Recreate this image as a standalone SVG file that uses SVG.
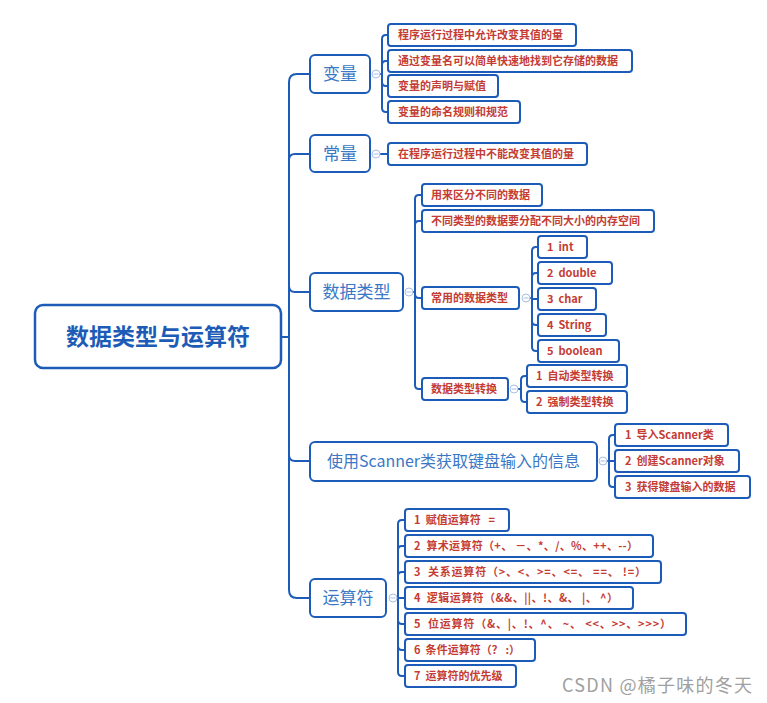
<svg xmlns="http://www.w3.org/2000/svg" width="767" height="703" viewBox="0 0 767 703">
<style>
text{font-family:"Noto Sans CJK SC","Microsoft YaHei",sans-serif;white-space:pre}
.root{fill:#fff;stroke:#1c5cb8;stroke-width:2.5}
.rt{font-size:23px;font-weight:bold;fill:#1d5cb6;text-anchor:middle}
.main{fill:#fff;stroke:#1c5cb8;stroke-width:2}
.mt{font-size:17px;fill:#3a78c6;text-anchor:middle}
.leaf{fill:#fff;stroke:#1c5cb8;stroke-width:2}
.lt{font-size:11px;font-weight:bold;fill:#c43c34}
.ln{fill:none;stroke:#1c5cb8;stroke-width:2}
.cc{fill:#fff;stroke:#a9bfe6;stroke-width:1}
.cm{stroke:#a9bfe6;stroke-width:1}
.wm{font-size:18px;fill:#a0a0a0}
</style>
<g id="connectors">
<path class="ln" d="M281,337 H289"/>
<path class="ln" d="M289,337 V82 Q289,74 297,74 H310"/>
<path class="ln" d="M289,337 V160 Q289,154 295,154 H310"/>
<path class="ln" d="M289,337 V286 Q289,292 295,292 H310"/>
<path class="ln" d="M289,337 V455 Q289,461 295,461 H310"/>
<path class="ln" d="M289,337 V590 Q289,598 297,598 H310"/>
<path class="ln" d="M380,74 H382"/>
<path class="ln" d="M382,74 V39 Q382,35 386,35 H388"/>
<path class="ln" d="M382,74 V65 Q382,61 386,61 H388"/>
<path class="ln" d="M382,74 V82 Q382,86 386,86 H388"/>
<path class="ln" d="M382,74 V108 Q382,112 386,112 H388"/>
<path class="ln" d="M380,154 H388"/>
<path class="ln" d="M413,292 H415"/>
<path class="ln" d="M415,292 V199 Q415,195 419,195 H422"/>
<path class="ln" d="M415,292 V225 Q415,221 419,221 H422"/>
<path class="ln" d="M415,292 V294 Q415,298 419,298 H422"/>
<path class="ln" d="M415,292 V385 Q415,389 419,389 H422"/>
<path class="ln" d="M530,298 H532"/>
<path class="ln" d="M532,298 V251 Q532,247 536,247 H538"/>
<path class="ln" d="M532,298 V277 Q532,273 536,273 H538"/>
<path class="ln" d="M532,299 H538"/>
<path class="ln" d="M532,298 V321 Q532,325 536,325 H538"/>
<path class="ln" d="M532,298 V347 Q532,351 536,351 H538"/>
<path class="ln" d="M518,389 H521"/>
<path class="ln" d="M521,389 V380 Q521,376 525,376 H527"/>
<path class="ln" d="M521,389 V398 Q521,402 525,402 H527"/>
<path class="ln" d="M607,461 H609"/>
<path class="ln" d="M609,461 V439 Q609,435 613,435 H615"/>
<path class="ln" d="M609,461 H615"/>
<path class="ln" d="M609,461 V483 Q609,487 613,487 H615"/>
<path class="ln" d="M397,598 H398"/>
<path class="ln" d="M398,598 V524 Q398,520 402,520 H405"/>
<path class="ln" d="M398,598 V550 Q398,546 402,546 H405"/>
<path class="ln" d="M398,598 V576 Q398,572 402,572 H405"/>
<path class="ln" d="M398,598 H405"/>
<path class="ln" d="M398,598 V620 Q398,624 402,624 H405"/>
<path class="ln" d="M398,598 V646 Q398,650 402,650 H405"/>
<path class="ln" d="M398,598 V672 Q398,676 402,676 H405"/>
<circle class="cc" cx="376" cy="74" r="4"/><path class="cm" d="M373.5,74 H378.5"/>
<circle class="cc" cx="376" cy="154" r="4"/><path class="cm" d="M373.5,154 H378.5"/>
<circle class="cc" cx="409" cy="292" r="4"/><path class="cm" d="M406.5,292 H411.5"/>
<circle class="cc" cx="526" cy="298" r="4"/><path class="cm" d="M523.5,298 H528.5"/>
<circle class="cc" cx="514" cy="389" r="4"/><path class="cm" d="M511.5,389 H516.5"/>
<circle class="cc" cx="603" cy="461" r="4"/><path class="cm" d="M600.5,461 H605.5"/>
<circle class="cc" cx="393" cy="598" r="4"/><path class="cm" d="M390.5,598 H395.5"/>
</g>
<g id="root"><rect class="root" x="35" y="305" width="246" height="63" rx="8"/><text class="rt" x="158" y="345">数据类型与运算符</text></g>
<g id="bianliang"><rect class="main" x="310" y="55" width="60" height="38" rx="5"/><text class="mt" x="340" y="80">变量</text></g>
<g id="bl1"><rect class="leaf" x="388" y="24" width="188" height="22" rx="3"/><text class="lt" x="398" y="39">程序运行过程中允许改变其值的量</text></g>
<g id="bl2"><rect class="leaf" x="388" y="50" width="244" height="22" rx="3"/><text class="lt" x="398" y="65">通过变量名可以简单快速地找到它存储的数据</text></g>
<g id="bl3"><rect class="leaf" x="388" y="75" width="110" height="22" rx="3"/><text class="lt" x="398" y="90">变量的声明与赋值</text></g>
<g id="bl4"><rect class="leaf" x="388" y="101" width="132" height="22" rx="3"/><text class="lt" x="398" y="116">变量的命名规则和规范</text></g>
<g id="changliang"><rect class="main" x="310" y="135" width="60" height="37" rx="5"/><text class="mt" x="340" y="160">常量</text></g>
<g id="cl1"><rect class="leaf" x="388" y="143" width="199" height="22" rx="3"/><text class="lt" x="398" y="158">在程序运行过程中不能改变其值的量</text></g>
<g id="shujuleixing"><rect class="main" x="310" y="273" width="93" height="38" rx="5"/><text class="mt" x="356.5" y="298">数据类型</text></g>
<g id="sj1"><rect class="leaf" x="422" y="184" width="120" height="22" rx="3"/><text class="lt" x="431" y="199">用来区分不同的数据</text></g>
<g id="sj2"><rect class="leaf" x="422" y="210" width="232" height="22" rx="3"/><text class="lt" x="431" y="225">不同类型的数据要分配不同大小的内存空间</text></g>
<g id="sj3"><rect class="leaf" x="422" y="287" width="97" height="22" rx="3"/><text class="lt" x="431" y="302">常用的数据类型</text></g>
<g id="t1"><rect class="leaf" x="538" y="236" width="49" height="22" rx="3"/><text class="lt" x="547" y="251">1  int</text></g>
<g id="t2"><rect class="leaf" x="538" y="262" width="74" height="22" rx="3"/><text class="lt" x="547" y="277">2  double</text></g>
<g id="t3"><rect class="leaf" x="538" y="288" width="58" height="22" rx="3"/><text class="lt" x="547" y="303">3  char</text></g>
<g id="t4"><rect class="leaf" x="538" y="314" width="68" height="22" rx="3"/><text class="lt" x="547" y="329">4  String</text></g>
<g id="t5"><rect class="leaf" x="538" y="340" width="81" height="22" rx="3"/><text class="lt" x="547" y="355">5  boolean</text></g>
<g id="sj4"><rect class="leaf" x="422" y="378" width="86" height="22" rx="3"/><text class="lt" x="431" y="393">数据类型转换</text></g>
<g id="zh1"><rect class="leaf" x="527" y="365" width="100" height="22" rx="3"/><text class="lt" x="536" y="380">1  自动类型转换</text></g>
<g id="zh2"><rect class="leaf" x="527" y="391" width="100" height="22" rx="3"/><text class="lt" x="536" y="406">2  强制类型转换</text></g>
<g id="scanner"><rect class="main" x="310" y="442" width="287" height="39" rx="5"/><text class="mt" x="453.5" y="467" style="font-size:16px">使用Scanner类获取键盘输入的信息</text></g>
<g id="sc1"><rect class="leaf" x="615" y="424" width="113" height="22" rx="3"/><text class="lt" x="625" y="439">1  导入Scanner类</text></g>
<g id="sc2"><rect class="leaf" x="615" y="450" width="124" height="22" rx="3"/><text class="lt" x="625" y="465">2  创建Scanner对象</text></g>
<g id="sc3"><rect class="leaf" x="615" y="476" width="135" height="22" rx="3"/><text class="lt" x="625" y="491">3  获得键盘输入的数据</text></g>
<g id="yunsuanfu"><rect class="main" x="310" y="579" width="76" height="38" rx="5"/><text class="mt" x="348" y="604">运算符</text></g>
<g id="op1"><rect class="leaf" x="405" y="509" width="104" height="22" rx="3"/><text class="lt" x="414" y="524" textLength="81" lengthAdjust="spacing">1  赋值运算符   =</text></g>
<g id="op2"><rect class="leaf" x="405" y="535" width="248" height="22" rx="3"/><text class="lt" x="414" y="550" textLength="224" lengthAdjust="spacing">2  算术运算符（+、 －、*、/、%、++、--）</text></g>
<g id="op3"><rect class="leaf" x="405" y="561" width="256" height="22" rx="3"/><text class="lt" x="414" y="576" textLength="232" lengthAdjust="spacing">3  关系运算符（&gt;、&lt;、&gt;=、&lt;=、 ==、 !=）</text></g>
<g id="op4"><rect class="leaf" x="405" y="587" width="228" height="22" rx="3"/><text class="lt" x="414" y="602" textLength="204" lengthAdjust="spacing">4  逻辑运算符（&amp;&amp;、||、!、&amp;、 |、 ^）</text></g>
<g id="op5"><rect class="leaf" x="405" y="613" width="281" height="22" rx="3"/><text class="lt" x="414" y="628" textLength="257" lengthAdjust="spacing">5  位运算符（&amp;、|、!、^、 ~、 &lt;&lt;、&gt;&gt;、&gt;&gt;&gt;）</text></g>
<g id="op6"><rect class="leaf" x="405" y="639" width="130" height="22" rx="3"/><text class="lt" x="414" y="654" textLength="106" lengthAdjust="spacing">6  条件运算符（？ :）</text></g>
<g id="op7"><rect class="leaf" x="405" y="665" width="111" height="22" rx="3"/><text class="lt" x="414" y="680">7  运算符的优先级</text></g>
<text class="wm" x="562" y="692" textLength="190" lengthAdjust="spacing">CSDN @橘子味的冬天</text>
</svg>
